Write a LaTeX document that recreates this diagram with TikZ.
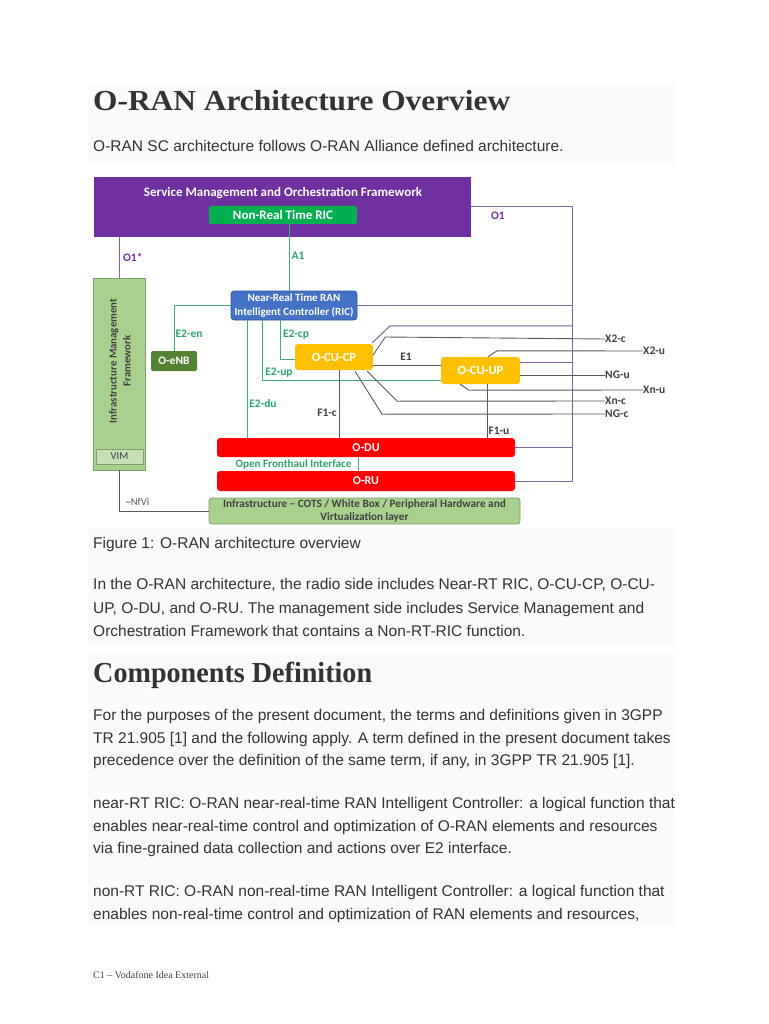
\documentclass[tikz,border=0pt]{standalone}
\usepackage{fontspec}
\setmainfont{Liberation Sans}
\newfontfamily\diagfont{Carlito}
\newfontfamily\headfont{Liberation Serif}
\usepackage{graphicx}
\definecolor{smoC}{HTML}{7030A0}
\definecolor{nrtC}{HTML}{00B050}
\definecolor{ricC}{HTML}{4472C4}
\definecolor{ricB}{HTML}{2F5597}
\definecolor{enbC}{HTML}{548235}
\definecolor{cuC}{HTML}{FFC000}
\definecolor{redC}{HTML}{FF0000}
\definecolor{lgC}{HTML}{A9D18E}
\definecolor{lgB}{HTML}{7F9F6A}
\definecolor{vimC}{HTML}{C5E0B4}
\definecolor{lineG}{HTML}{3DAF7E}
\definecolor{lblG}{HTML}{2EA36C}
\definecolor{lineP}{HTML}{8064A2}
\definecolor{lineK}{HTML}{595959}
\definecolor{darkT}{HTML}{404040}
\definecolor{txtC}{HTML}{333333}
\definecolor{bandC}{HTML}{FAFAFA}
\tikzset{
  abox/.style={inner sep=0pt, text=white, align=center, font=\diagfont\bfseries\fontsize{11.5}{13.5}\selectfont},
  lbl/.style={inner sep=0pt, font=\diagfont\bfseries\fontsize{11.5}{13}\selectfont},
  glbl/.style={lbl, text=lblG},
  plbl/.style={lbl, text=smoC},
  klbl/.style={lbl, text=darkT},
  xlbl/.style={lbl, text=darkT, anchor=west},
  gline/.style={draw=lineG, line width=1pt},
  pline/.style={draw=lineP, line width=1pt},
  kline/.style={draw=lineK, line width=0.9pt},
  body/.style={anchor=base west, inner sep=0pt, text=txtC, font=\fontsize{15.5}{18}\selectfont},
  head/.style={anchor=base west, inner sep=0pt, text=txtC, font=\headfont\bfseries\fontsize{29}{32}\selectfont},
  band/.style={fill=bandC, draw=none}
}
\begin{document}
\begin{tikzpicture}[x=1pt,y=-1pt]
\useasboundingbox[fill=white] (0,0) rectangle (768,1024);
% background bands
\path[band] (88,86) rectangle (675,162);
\path[band] (88,528) rectangle (675,645);
\path[band] (88,652) rectangle (675,925);

% texts
\node[head] (title) at (93,111) {\resizebox{417pt}{\height}{O-RAN Architecture Overview}};
\node[body] (sub) at (93,152) {O-RAN SC architecture follows O-RAN Alliance defined architecture.};
\node[body] (cap) at (93,548) {Figure 1: O-RAN architecture overview};
\node[body] (p1a) at (93,589) {In the O-RAN architecture, the radio side includes Near-RT RIC, O-CU-CP, O-CU-};
\node[body] (p1b) at (93,613) {UP, O-DU, and O-RU. The management side includes Service Management and};
\node[body] (p1c) at (93,636) {Orchestration Framework that contains a Non-RT-RIC function.};
\node[head] (h2) at (93,682) {\resizebox{279pt}{\height}{Components Definition}};
\node[body] (p2a) at (93,720) {For the purposes of the present document, the terms and definitions given in 3GPP};
\node[body] (p2b) at (93,743) {TR 21.905 [1] and the following apply. A term defined in the present document takes};
\node[body] (p2c) at (93,765) {precedence over the definition of the same term, if any, in 3GPP TR 21.905 [1].};
\node[body] (p3a) at (93,808) {near-RT RIC: O-RAN near-real-time RAN Intelligent Controller: a logical function that};
\node[body] (p3b) at (93,831) {enables near-real-time control and optimization of O-RAN elements and resources};
\node[body] (p3c) at (93,853) {via fine-grained data collection and actions over E2 interface.};
\node[body] (p4a) at (93,896) {non-RT RIC: O-RAN non-real-time RAN Intelligent Controller: a logical function that};
\node[body] (p4b) at (93,919) {enables non-real-time control and optimization of RAN elements and resources,};
\node[anchor=base west, inner sep=0pt, text=darkT, font=\headfont\fontsize{10}{12}\selectfont] (foot) at (93,978) {C1 – Vodafone Idea External};

% diagram boxes
\node[abox, fill=smoC, minimum width=377pt, minimum height=60pt] (smo) at (282.5,207) {};
\node[abox, font=\diagfont\bfseries\fontsize{13}{15}\selectfont] (smot) at (283,193) {Service Management and Orchestration Framework};
\node[abox, fill=nrtC, rounded corners=2pt, minimum width=148pt, minimum height=18pt, font=\diagfont\bfseries\fontsize{13}{15}\selectfont] (nrt) at (283,215) {Non-Real Time RIC};
\node[fill=lgC, draw=lgB, line width=0.8pt, minimum width=52pt, minimum height=192pt, inner sep=0pt] (imf) at (119,374) {};
\node[rotate=90, inner sep=0pt, text=darkT, align=center, font=\diagfont\bfseries\fontsize{10.8}{14}\selectfont] (imft) at (120,361) {Infrastructure Management\\Framework};
\node[fill=vimC, draw=lgB, line width=0.8pt, minimum width=47pt, minimum height=15pt, inner sep=0pt, text=darkT, font=\diagfont\fontsize{10.5}{12}\selectfont] (vim) at (119.5,456.5) {VIM};
\node[abox, fill=ricC, draw=ricB, line width=0.6pt, rounded corners=3pt, minimum width=126pt, minimum height=29pt, font=\diagfont\bfseries\fontsize{11}{14}\selectfont] (ric) at (294,305.5) {Near-Real Time RAN\\Intelligent Controller (RIC)};
\node[abox, fill=enbC, rounded corners=2pt, minimum width=46pt, minimum height=20pt] (oenb) at (174,361) {O-eNB};
\node[abox, fill=cuC, rounded corners=3pt, minimum width=78pt, minimum height=26pt, font=\diagfont\bfseries\fontsize{12.5}{14}\selectfont] (cucp) at (334,357) {O-CU-CP};
\node[abox, fill=cuC, rounded corners=3pt, minimum width=79pt, minimum height=27pt, font=\diagfont\bfseries\fontsize{12.5}{14}\selectfont] (cuup) at (480.5,370.5) {O-CU-UP};
\node[abox, fill=redC, rounded corners=3pt, minimum width=298pt, minimum height=19pt, font=\diagfont\bfseries\fontsize{12}{14}\selectfont] (odu) at (366,447.5) {O-DU};
\node[abox, fill=redC, rounded corners=3pt, minimum width=298pt, minimum height=20pt, font=\diagfont\bfseries\fontsize{12}{14}\selectfont] (oru) at (366,481) {O-RU};
\node[abox, fill=lgC, draw=lgB, line width=0.8pt, rounded corners=3pt, minimum width=311pt, minimum height=26pt, text=darkT, font=\diagfont\bfseries\fontsize{11.2}{12.5}\selectfont] (infra) at (364.5,511) {Infrastructure – COTS / White Box / Peripheral Hardware and\\Virtualization layer};

% named helper coordinates
\coordinate (o1top) at ([xshift=101pt]smo.east);
\coordinate (a1) at ([xshift=6pt]nrt.south);
\coordinate (e2cp) at ([xshift=50pt]ric.south west);
\coordinate (e2up) at ([xshift=32pt]ric.south west);
\coordinate (e2du) at ([xshift=17pt]ric.south west);
\coordinate (f1c) at ([xshift=5pt]cucp.south);
\coordinate (f1u) at ([xshift=6.5pt]cuup.south);
\coordinate (ofh) at ([xshift=-8pt]odu.south);

% green E2/A1 lines
\draw[gline] (a1) -- (a1 |- ric.north);
\draw[gline] (ric.west) -| (oenb.north);
\draw[gline] (e2cp) |- ([yshift=-2pt]cucp.west);
\draw[gline] (e2up) |- ([yshift=-9.5pt]cuup.west);
\draw[gline] (e2du) -- (e2du |- odu.north);
\draw[gline] (ofh) -- (ofh |- oru.north);

% purple O1 lines
\draw[pline] (smo.east) -- (o1top) -- (o1top |- oru.east) -- (oru.east);
\draw[pline] (imf.north |- smo.south) -- (imf.north);
\draw[pline] (ric.east) -- (ric.east -| o1top);
\draw[pline] ([xshift=-1pt,yshift=1pt]cucp.north east) -- ++(18,-17) -- ++(182,0);
\draw[pline] ([yshift=8.5pt]cuup.east) -- ([yshift=8.5pt]cuup.east -| o1top);
\draw[pline] (odu.east) -- (odu.east -| o1top);

% gray lines
\draw[kline] ([yshift=-8pt]cucp.east) -- ([yshift=-8pt]cucp.east -| cuup.west);
\draw[kline] (f1c) -- (f1c |- odu.north);
\draw[kline] (f1u) -- (f1u |- odu.north);
\draw[kline] (imf.south) |- (infra.west);

\node[xlbl] (x2c) at (605,339) {X2-c};
\node[xlbl] (x2u) at (643,351) {X2-u};
\node[xlbl] (ngu) at (605,375) {NG-u};
\node[xlbl] (xnu) at (643,390) {Xn-u};
\node[xlbl] (xnc) at (605,401) {Xn-c};
\node[xlbl] (ngc) at (605,414) {NG-c};
\draw[kline] ([yshift=2pt]cucp.east) -- ++(12,-18) -- (x2c.west);
\draw[kline] ([xshift=7.5pt]cuup.north) -- ++(9,-6) -- (x2u.west);
\draw[kline] ([yshift=-4.5pt]cuup.east) -- (ngu.west);
\draw[kline] ([xshift=-20.5pt]cuup.south) -- ++(9,6) -- (xnu.west);
\draw[kline] ([xshift=-6pt,yshift=-1pt]cucp.south east) -- ++(30,30) -- (xnc.west);
\draw[kline] ([xshift=21pt,yshift=-1pt]cucp.south) -- ++(27,43) -- (ngc.west);

% labels
\node[plbl] (lo1) at (498,216) {O1};
\node[plbl, anchor=west] (lo1s) at (123,257) {O1*};
\node[glbl] (la1) at (298,256) {A1};
\node[glbl] (le2en) at (189,334) {E2-en};
\node[glbl] (le2cp) at (296,335) {E2-cp};
\node[glbl] (le2up) at (279,373) {E2-up};
\node[glbl] (le2du) at (263,404) {E2-du};
\node[klbl] (lf1c) at (327,413) {F1-c};
\node[klbl] (lf1u) at (499,431) {F1-u};
\node[klbl] (le1) at (406,357) {E1};
\node[glbl, font=\diagfont\bfseries\fontsize{11.1}{13}\selectfont] (lofh) at (293.5,464) {Open Fronthaul Interface};
\node[inner sep=0pt, text=lineK, font=\diagfont\fontsize{10.5}{12}\selectfont] (lnfvi) at (137.5,502) {\textasciitilde NfVi};
\end{tikzpicture}
\end{document}
